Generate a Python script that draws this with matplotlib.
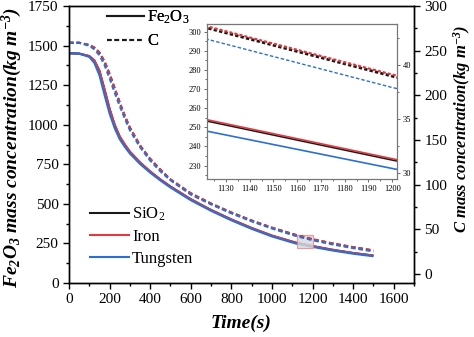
import numpy as np
import matplotlib
matplotlib.use('Agg')
import matplotlib.pyplot as plt
import matplotlib.patches as mpl_patches
from matplotlib.ticker import MultipleLocator, AutoMinorLocator
from matplotlib.lines import Line2D

plt.rcParams['font.family'] = 'Liberation Serif'
plt.rcParams['mathtext.fontset'] = 'custom'
plt.rcParams['mathtext.rm'] = 'Liberation Serif'
plt.rcParams['mathtext.it'] = 'Liberation Serif:italic'
plt.rcParams['mathtext.bf'] = 'Liberation Serif:style=italic:weight=bold'

# time (s)
aTime = [0, 50, 100, 125, 150, 175, 200, 225, 250, 275, 300, 350, 400, 450,
         500, 600, 700, 800, 900, 1000, 1100, 1120, 1200, 1300, 1400, 1500]

# Fe2O3 mass concentration (kg m-3), left axis
aFe2O3_sio2 = [1451, 1449, 1433, 1405, 1340, 1222, 1099, 999, 924, 874, 829, 761,
               704, 654, 609, 529, 461, 401, 347, 299, 261, 253.8, 232.9, 209.3, 189.3, 173.3]
aFe2O3_iron = [1452, 1450, 1434, 1406, 1341, 1223, 1100, 1000, 925, 875, 830, 762,
               705, 655, 610, 530, 462, 402, 348, 300, 262, 254.5, 233.6, 210, 190, 174]
aFe2O3_tungsten = [1452, 1449, 1428, 1390, 1312, 1188, 1070, 978, 908, 860, 818, 752,
                   697, 648, 603, 523, 456, 396, 342, 294, 256, 248.5, 228.5, 205, 185, 169]

# C mass concentration (kg m-3), right axis
aC_sio2 = [258.8, 258.8, 256.3, 253.3, 247.8, 237.8, 223.8, 207.8, 191.8, 176.8, 163.8,
           143.8, 128.8, 116.8, 105.8, 90.3, 78.8, 68.8, 59.8, 51.8, 44.9, 43.55, 38.95,
           34.15, 30.05, 26.35]
aC_iron = [259, 259, 256.5, 253.5, 248, 238, 224, 208, 192, 177, 164, 144, 129, 117, 106,
           90.5, 79, 69, 60, 52, 45.0, 43.7, 39.1, 34.3, 30.2, 26.5]
aC_tungsten = [259, 258.8, 255.5, 251.5, 245, 234, 219, 203, 188, 174, 161, 142, 127, 115, 105,
               89, 78, 68, 59, 51, 43.8, 42.5, 37.9, 33.1, 29.0, 25.3]

aLabel_case = ['SiO$_2$', 'Iron', 'Tungsten']
aColor_case = ['#1a1a1a', '#e2383f', '#2b6fd6']

sLabel_x = r'Time(s)'
sLabel_y = r'$\mathbf{Fe_2O_3}$ mass concentration(kg m$\mathbf{^{-3}}$)'
sLabel_y2 = r'C mass concentration(kg m$\mathbf{^{-3}}$)'

aFe2O3 = [aFe2O3_sio2, aFe2O3_iron, aFe2O3_tungsten]
aC = [aC_sio2, aC_iron, aC_tungsten]
aDash = (0, (2.2, 1.4))

fig = plt.figure(figsize=(4.74, 3.37), dpi=100)

ax = fig.add_axes([0.1456, 0.1602, 0.7278, 0.822])
ax2 = ax.twinx()

for i in range(3):
    ax.plot(aTime, aFe2O3[i], color=aColor_case[i], lw=1.5, solid_capstyle='butt')
for i in range(3):
    ax2.plot(aTime, aC[i], color=aColor_case[i], lw=1.5, linestyle=aDash)

ax.set_xlim(0, 1700)
ax.set_ylim(0, 1750)
ax2.set_ylim(-10, 300)

ax.xaxis.set_major_locator(MultipleLocator(200))
ax.xaxis.set_minor_locator(MultipleLocator(100))
ax.yaxis.set_major_locator(MultipleLocator(250))
ax.yaxis.set_minor_locator(MultipleLocator(125))
ax2.yaxis.set_major_locator(MultipleLocator(50))
ax2.yaxis.set_minor_locator(MultipleLocator(25))

for a in [ax, ax2]:
    a.tick_params(which='major', direction='out', length=4, width=1, labelsize=11)
    a.tick_params(which='minor', direction='out', length=2.5, width=1)
    for s in a.spines.values():
        s.set_linewidth(1)

ax.set_xlabel(sLabel_x, fontsize=14, fontweight='bold', style='italic', labelpad=6)
ax.set_ylabel(sLabel_y, fontsize=14, fontweight='bold', style='italic',
              va='center', ha='center')
ax2.set_ylabel(sLabel_y2, fontsize=12, fontweight='bold', style='italic',
               va='center', ha='center')
ax.yaxis.set_label_coords(-0.166, 0.49)
ax2.yaxis.set_label_coords(1.140, 0.556)

# zoom box on the main plot
rect = mpl_patches.Rectangle((1122, 223), 80, 81, facecolor='#d9d9d9', alpha=0.8,
                             edgecolor='#f08080', lw=0.8, zorder=5)
ax.add_patch(rect)

# legends
aHandle_type = [Line2D([], [], color='#1a1a1a', lw=1.5),
                Line2D([], [], color='#1a1a1a', lw=1.5, linestyle=aDash)]
leg1 = ax.legend(aHandle_type, ['Fe$_2$O$_3$', 'C'], loc='upper left',
                 bbox_to_anchor=(0.068, 1.045), frameon=False, fontsize=12,
                 handlelength=2.2, handletextpad=0.2, labelspacing=0.45)
ax.add_artist(leg1)

aHandle_case = [Line2D([], [], color=c, lw=1.5) for c in aColor_case]
leg2 = ax2.legend(aHandle_case, aLabel_case, loc='upper left',
                  bbox_to_anchor=(0.018, 0.332), frameon=False, fontsize=12,
                  handlelength=2.3, handletextpad=0.2, labelspacing=0.35)

# inset
axin = fig.add_axes([0.4367, 0.4688, 0.4008, 0.46])
axin2 = axin.twinx()
for i in range(3):
    axin.plot(aTime, aFe2O3[i], color=aColor_case[i], lw=1.2)
axin2.plot(aTime, aC[0], color=aColor_case[0], lw=2.0, linestyle=(0, (1.2, 0.8)))
axin2.plot(aTime, aC[1], color=aColor_case[1], lw=1.6, linestyle=(0, (1.4, 0.9)))
axin2.plot(aTime, aC[2], color=aColor_case[2], lw=1.0, linestyle=(0, (2.5, 1.5)))

axin.set_xlim(1122, 1202)
axin.set_ylim(223, 304)
axin2.set_ylim(29.4, 43.8)
axin.xaxis.set_major_locator(MultipleLocator(10))
axin.xaxis.set_minor_locator(MultipleLocator(5))
axin.yaxis.set_major_locator(MultipleLocator(10))
axin.yaxis.set_minor_locator(MultipleLocator(5))
axin2.yaxis.set_major_locator(MultipleLocator(5))
axin2.yaxis.set_minor_locator(AutoMinorLocator(2))
for a in [axin, axin2]:
    a.tick_params(which='major', direction='out', length=2.5, width=0.6, labelsize=6,
                  pad=1.5, color='#555555')
    a.tick_params(which='minor', direction='out', length=1.5, width=0.6, color='#555555')
    for s in a.spines.values():
        s.set_color('#777777')
        s.set_linewidth(0.8)
axin.spines['top'].set_color('#333333')

fig.savefig('out.png', dpi=100)
plt.close('all')
